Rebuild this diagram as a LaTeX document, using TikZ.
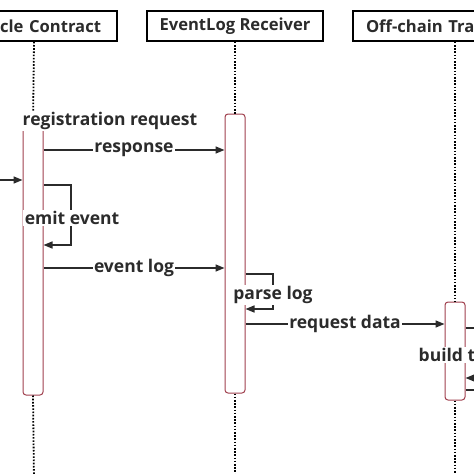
\documentclass[tikz,border=0pt]{standalone}
\usepackage{fontspec}
\setmainfont{Open Sans}
\usepackage{tikz}
\usetikzlibrary{arrows.meta, positioning, calc}
\definecolor{Ink}{HTML}{2B2B2B}
\definecolor{Act}{HTML}{A0404E}

\begin{document}
\begin{tikzpicture}[
  x=1pt, y=-1pt,
  font=\bfseries\fontsize{17.5}{20}\selectfont,
  head/.style={draw=black, line width=1.6pt, minimum height=30pt, inner xsep=0pt, inner ysep=0pt, text=Ink, font=\bfseries\fontsize{16.6}{19}\selectfont},
  life/.style={draw=black, line width=1.8pt, dash pattern=on 1.6pt off 1.6pt},
  act/.style={draw=Act, line width=1pt, rounded corners=3pt, fill=white, minimum width=20pt, inner sep=0pt},
  msg/.style={-{Triangle[length=9pt, width=7pt]}, draw=Ink, line width=1.5pt},
  lbl/.style={fill=white, inner sep=1.5pt, text=Ink}
]
\useasboundingbox (0,0) rectangle (474,474);
\clip (0,0) rectangle (474,474);

% participants
\node[head, minimum width=166pt, text width=134pt, align=right] (oracle) at (34,26) {cle Contract};
\node[head, minimum width=176pt] (receiver) at (235,26) {EventLog Receiver};
\node[head, minimum width=206pt, text width=180pt, align=left] (builder) at (456,26) {Off-chain Tra};

% activations
\node[act, minimum height=269pt] (oracleact) at (33,260.5) {};
\node[act, minimum height=279pt] (receiveract) at (235,253.5) {};
\node[act, minimum height=98pt] (builderact) at (455,351) {};

% lifelines
\coordinate (oracleend) at (34,480);
\coordinate (receiverend) at (235,480);
\coordinate (builderend) at (455,480);
\draw[life] (oracle.south) -- (oracleact.north);
\draw[life] (oracleact.south) -- (oracleend);
\draw[life] (receiver.south) -- (receiveract.north);
\draw[life] (receiveract.south) -- (receiverend);
\draw[life] (builder.south -| builderact.north) -- (builderact.north);
\draw[life] (builderact.south) -- (builderend);

% messages
\coordinate (outside) at (-10,180);
\coordinate (buildloop) at (495,328);
\coordinate (nextmsg) at (495,390);
\draw[msg] (outside) -- (outside -| oracleact.west);
\draw[msg] (oracleact.east |- 0,150) -- (receiveract.west |- 0,150);
\draw[msg] (oracleact.east |- 0,185) -| (71,245) -- (oracleact.east |- 0,245);
\draw[msg] (oracleact.east |- 0,268) -- (receiveract.west |- 0,268);
\draw[msg] (receiveract.east |- 0,274) -| (273,309) -- (receiveract.east |- 0,309);
\draw[msg] (receiveract.east |- 0,324) -- (builderact.west |- 0,324);
\draw[msg] (builderact.east |- 0,328) -- (buildloop) -- (buildloop |- 0,378) -- (builderact.east |- 0,378);
\draw[msg] (builderact.east |- 0,390) -- (nextmsg);

% labels
\node[lbl] (regreq) at (110,121) {registration request};
\node[lbl] (resp) at (134,150) {response};
\node[lbl] (emit) at (72,218) {emit event};
\node[lbl] (evlog) at (134,268) {event log};
\node[lbl] (parse) at (273,295) {parse log};
\node[lbl] (reqdata) at (345,324) {request data};
\node[lbl, anchor=west] (buildtx) at (417,355) {build t};
\end{tikzpicture}
\end{document}
